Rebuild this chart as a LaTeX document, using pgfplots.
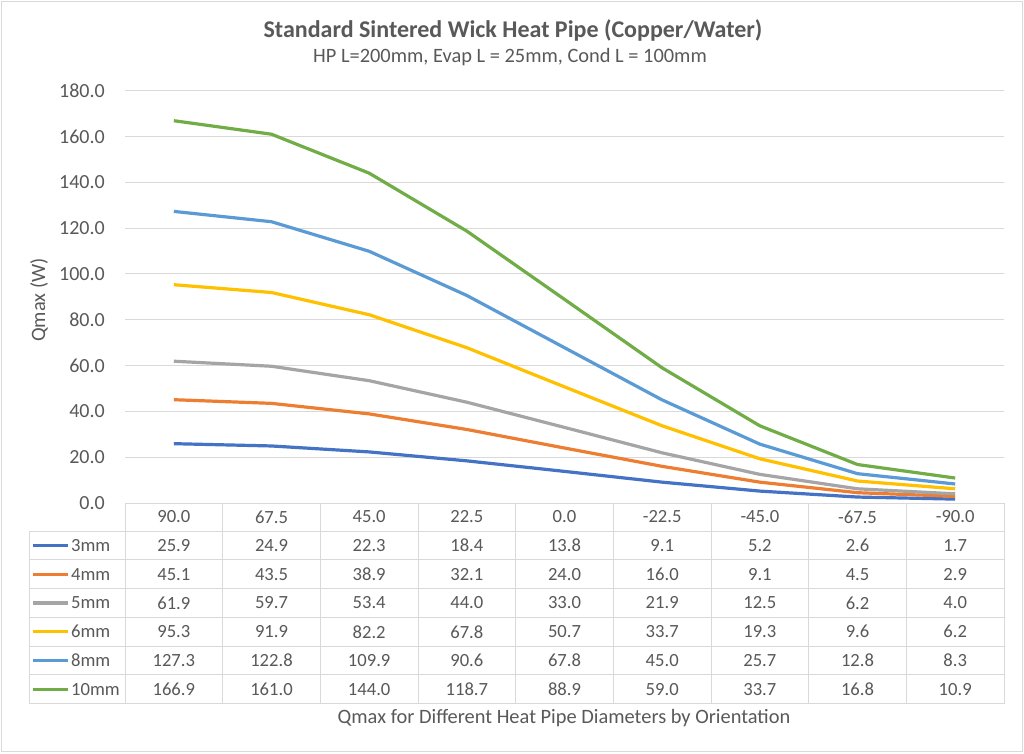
\documentclass[border=0pt]{standalone}
\usepackage{fontspec}
\setmainfont{Carlito}
\usepackage{pgfplots}
\usepackage{pgfplotstable}
\pgfplotsset{compat=1.18}

\definecolor{txt}{HTML}{595959}
\definecolor{gridc}{HTML}{D9D9D9}
\definecolor{c3}{HTML}{4472C4}
\definecolor{c4}{HTML}{ED7D31}
\definecolor{c5}{HTML}{A5A5A5}
\definecolor{c6}{HTML}{FFC000}
\definecolor{c8}{HTML}{5B9BD5}
\definecolor{c10}{HTML}{70AD47}

% Qmax (W) per orientation (deg) and pipe diameter
\pgfplotstableread{
x ang d3 d4 d5 d6 d8 d10
0 90.0 25.9 45.1 61.9 95.3 127.3 166.9
1 67.5 24.9 43.5 59.7 91.9 122.8 161.0
2 45.0 22.3 38.9 53.4 82.2 109.9 144.0
3 22.5 18.4 32.1 44.0 67.8 90.6 118.7
4 0.0 13.8 24.0 33.0 50.7 67.8 88.9
5 -22.5 9.1 16.0 21.9 33.7 45.0 59.0
6 -45.0 5.2 9.1 12.5 19.3 25.7 33.7
7 -67.5 2.6 4.5 6.2 9.6 12.8 16.8
8 -90.0 1.7 2.9 4.0 6.2 8.3 10.9
}\qtable

\newcommand{\lbl}{\fontsize{20.4}{24}\selectfont}
\newcommand{\tbl}{\fontsize{18.6}{22}\selectfont}
\newcommand{\colw}{97.67}
\newcommand{\rowh}{28.78}

\begin{document}
\begin{tikzpicture}[x=1pt,y=1pt]
\path[use as bounding box,fill=white] (0,0) rectangle (1024,753);
\draw[gridc,line width=1pt] (1.5,1.5) rectangle (1022.5,751.5);

% titles
\node[txt,font=\fontsize{24}{29}\selectfont\bfseries] at (513,723) {Standard Sintered Wick Heat Pipe (Copper/Water)};
\node[txt,font=\lbl] at (510,696) {HP L=200mm, Evap L = 25mm, Cond L = 100mm};
\node[txt,font=\lbl,rotate=90] at (39,453) {Qmax (W)};
\node[txt,font=\lbl] at (564,35) {Qmax for Different Heat Pipe Diameters by Orientation};

\begin{axis}[
  at={(125pt,250pt)}, anchor=south west,
  scale only axis, width=879pt, height=412.3pt,
  xmin=-0.5, xmax=8.5, ymin=0, ymax=180,
  ytick distance=20,
  xtick=\empty,
  axis line style={draw=none},
  major tick length=0pt,
  ymajorgrids, grid style={gridc,line width=1pt},
  yticklabel style={txt,font=\fontsize{20}{24}\selectfont,inner sep=0pt,anchor=east,xshift=-20pt},
  /pgf/number format/assume math mode=true,
  /pgf/number format/.cd, fixed, fixed zerofill, precision=1,
  /pgfplots/.cd,
  every axis plot/.append style={line width=3.2pt, line join=round, no markers},
  clip=false,
]
\addplot[c3]  table[x=x,y=d3]  {\qtable};
\addplot[c4]  table[x=x,y=d4]  {\qtable};
\addplot[c5]  table[x=x,y=d5]  {\qtable};
\addplot[c6]  table[x=x,y=d6]  {\qtable};
\addplot[c8]  table[x=x,y=d8]  {\qtable};
\addplot[c10] table[x=x,y=d10] {\qtable};
\end{axis}

% data table below the plot
\begin{scope}[gridc,line width=1pt]
  \draw (125,250) -- (1004,250);
  \foreach \k in {0,...,6} \draw (29,222-\rowh*\k) -- (1004,222-\rowh*\k);
  \draw (29,222) -- (29,222-\rowh*6);
  \foreach \k in {0,...,9} \draw (125+\colw*\k,250) -- (125+\colw*\k,222-\rowh*6);
\end{scope}
\foreach \c in {0,...,8}{
  \pgfplotstablegetelem{\c}{ang}\of{\qtable}
  \node[txt,font=\tbl] at (125+\colw*\c+\colw/2,236) {\pgfplotsretval};
}
\foreach \col/\name/\clr [count=\r from 0] in {d3/3mm/c3,d4/4mm/c4,d5/5mm/c5,d6/6mm/c6,d8/8mm/c8,d10/10mm/c10}{
  \draw[\clr,line width=3.2pt] (33,222-\rowh*\r-\rowh/2) -- (68,222-\rowh*\r-\rowh/2);
  \node[txt,font=\tbl,anchor=west,inner sep=0pt] at (71,222-\rowh*\r-\rowh/2) {\name};
  \foreach \c in {0,...,8}{
    \pgfplotstablegetelem{\c}{\col}\of{\qtable}
    \node[txt,font=\tbl] at (125+\colw*\c+\colw/2,222-\rowh*\r-\rowh/2) {\pgfplotsretval};
  }
}
\end{tikzpicture}
\end{document}
